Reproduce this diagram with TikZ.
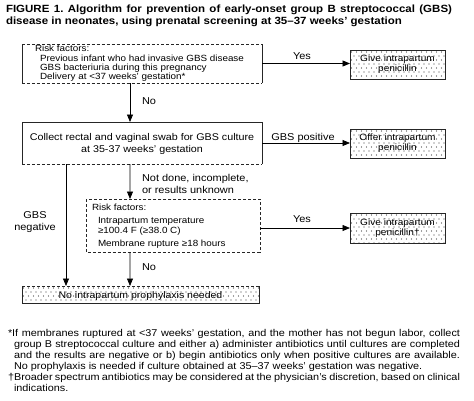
\documentclass[tikz,border=0pt]{standalone}
\usepackage{fontspec}
\setmainfont{Liberation Sans}[FakeStretch=1.1]
\usetikzlibrary{arrows.meta}
\frenchspacing
\newcommand\fs[2]{\fontsize{#1}{#2}\selectfont}
\newcommand\dotgrid[4]{%
  \begin{scope}
    \clip (#1,#2) rectangle ++(#3,#4);
    \foreach \r in {0,...,8}{%
      \pgfmathsetmacro\dotoff{mod(\r,2)*2.5+1.5}%
      \pgfmathsetmacro\doty{#2+\r*4+2}%
      \foreach \c in {0,...,48}{%
        \pgfmathsetmacro\dotx{#1+\c*5+\dotoff}%
        \fill[dotcol] (\dotx,\doty) circle (0.6bp);
      }}
  \end{scope}}
\colorlet{dotcol}{black!75}
\tikzset{
  box/.style={draw=none, inner sep=0pt, outer sep=0pt, anchor=north west},
  edgeline/.style={line width=0.7bp, draw=black!85},
  dashedge/.style={line width=0.7bp, draw=black!85, densely dashed},
  conn/.style={line width=0.8bp, draw=black},
  arr/.style={conn, -{Triangle[length=7.5bp,width=6bp]}},
  txt/.style={inner sep=0pt, outer sep=0pt, anchor=base west},
  ctxt/.style={inner sep=0pt, outer sep=0pt, anchor=base},
  titlet/.style={txt, font=\fs{10.5}{12}\bfseries},
  boxt/.style={txt, font=\fs{9}{9}},
  mainc/.style={ctxt, font=\fs{9.8}{12}},
  rightc/.style={ctxt, font=\fs{9.2}{10}},
  lab/.style={txt, font=\fs{10}{12}},
  labc/.style={ctxt, font=\fs{10}{12}},
  foot/.style={txt, font=\fs{9.9}{11}},
}
\begin{document}
\begin{tikzpicture}[x=1bp, y=-1bp]
\useasboundingbox[fill=white] (0,0) rectangle (474,400);

% title
\node[titlet] (t1) at (6,12) {\makebox[446bp][s]{FIGURE 1. Algorithm for prevention of early-onset group B streptococcal (GBS)}};
\node[titlet] (t2) at (6,24) {disease in neonates, using prenatal screening at 35--37 weeks' gestation};

% dotted fills
\dotgrid{350}{50}{95}{29}
\dotgrid{350}{129}{95}{29}
\dotgrid{350}{213}{95}{30}
\dotgrid{22}{286}{237}{17}

% boxes
\node[box, minimum width=240bp, minimum height=39bp] (rf1) at (22,44) {};
\draw[dashedge] (rf1.north west) -- (rf1.north east);
\draw[dashedge] (rf1.south west) -- (rf1.south east);
\draw[edgeline] (rf1.north west) -- (rf1.south west);
\draw[edgeline] (rf1.north east) -- (rf1.south east);
\node[boxt] (rf1a) at (35,51) {Risk factors:};
\node[boxt] (rf1b) at (40,61) {Previous infant who had invasive GBS disease};
\node[boxt] (rf1c) at (40,70) {GBS bacteriuria during this pregnancy};
\node[boxt] (rf1d) at (40,79) {Delivery at <37 weeks' gestation*};

\node[box, minimum width=95bp, minimum height=29bp] (give1) at (350,50) {};
\draw[edgeline] (give1.north west) rectangle (give1.south east);
\node[rightc] (give1a) at (397.5,61) {Give intrapartum};
\node[rightc] (give1b) at (397.5,71) {penicillin};

\node[box, minimum width=240bp, minimum height=42bp] (cs) at (22,122) {};
\draw[edgeline] (cs.south west) -- (cs.north west) -- (cs.north east) -- (cs.south east);
\draw[dashedge] (cs.south west) -- (cs.south east);
\node[mainc] (csa) at (142,140) {Collect rectal and vaginal swab for GBS culture};
\node[mainc] (csb) at (142,152) {at 35-37 weeks' gestation};

\node[box, minimum width=95bp, minimum height=29bp] (offer) at (350,129) {};
\draw[edgeline] (offer.north west) rectangle (offer.south east);
\node[rightc] (offera) at (397.5,140) {Offer intrapartum};
\node[rightc] (offerb) at (397.5,150) {penicillin};

\node[box, minimum width=174bp, minimum height=53bp] (rf2) at (86,199) {};
\draw[dashedge] (rf2.north west) rectangle (rf2.south east);
\node[boxt] (rf2a) at (92,210) {Risk factors:};
\node[boxt] (rf2b) at (98,223) {Intrapartum temperature};
\node[boxt] (rf2c) at (98,233) {≥100.4 F (≥38.0 C)};
\node[boxt] (rf2d) at (98,246) {Membrane rupture ≥18 hours};

\node[box, minimum width=95bp, minimum height=30bp] (give2) at (350,213) {};
\draw[edgeline] (give2.north west) rectangle (give2.south east);
\node[rightc] (give2a) at (397.5,225) {Give intrapartum};
\node[rightc] (give2b) at (397.5,235) {penicillin†};

\node[box, minimum width=237bp, minimum height=17bp] (nop) at (22,286) {};
\draw[dashedge] (nop.north west) -- (nop.north east);
\draw[edgeline] (nop.north west) -- (nop.south west) -- (nop.south east) -- (nop.north east);
\node[mainc, font=\fs{9.6}{12}] (nopt) at (140.5,298.5) {No intrapartum prophylaxis needed};

% connectors
\draw[arr] ([xshift=108bp]rf1.south west) -- ([xshift=108bp]cs.north west);
\node[lab] (no1) at (142,104) {No};
\draw[arr] (rf1.east) -- (rf1.east -| give1.west);
\node[labc] (yes1) at (302,59) {Yes};
\draw[arr] (cs.east) -- (cs.east -| offer.west);
\node[labc] (pos) at (303,140) {GBS positive};
\draw[arr] ([xshift=108bp]cs.south west) -- ([xshift=44bp]rf2.north west);
\node[lab] (nd1) at (142,181) {Not done, incomplete,};
\node[lab] (nd2) at (142,193) {or results unknown};
\draw[arr] ([xshift=44bp]cs.south west) -- ([xshift=44bp]nop.north west);
\node[labc] (neg1) at (35,218) {GBS};
\node[labc] (neg2) at (35,230) {negative};
\draw[arr] (give2.west -| rf2.east) -- (give2.west);
\node[labc] (yes2) at (302,222) {Yes};
\draw[arr] ([xshift=44bp]rf2.south west) -- ([xshift=108bp]nop.north west);
\node[lab] (no2) at (142,270) {No};

% footnotes
\node[foot] (f1) at (8,336) {\makebox[452bp][s]{*If membranes ruptured at <37 weeks' gestation, and the mother has not begun labor, collect}};
\node[foot] (f2) at (14,347) {\makebox[446bp][s]{group B streptococcal culture and either a) administer antibiotics until cultures are completed}};
\node[foot] (f3) at (14,358) {\makebox[446bp][s]{and the results are negative or b) begin antibiotics only when positive cultures are available.}};
\node[foot] (f4) at (14,369) {No prophylaxis is needed if culture obtained at 35--37 weeks' gestation was negative.};
\node[foot] (f5) at (8,380) {\makebox[452bp][s]{†Broader spectrum antibiotics may be considered at the physician's discretion, based on clinical}};
\node[foot] (f6) at (14,391) {indications.};
\end{tikzpicture}
\end{document}
